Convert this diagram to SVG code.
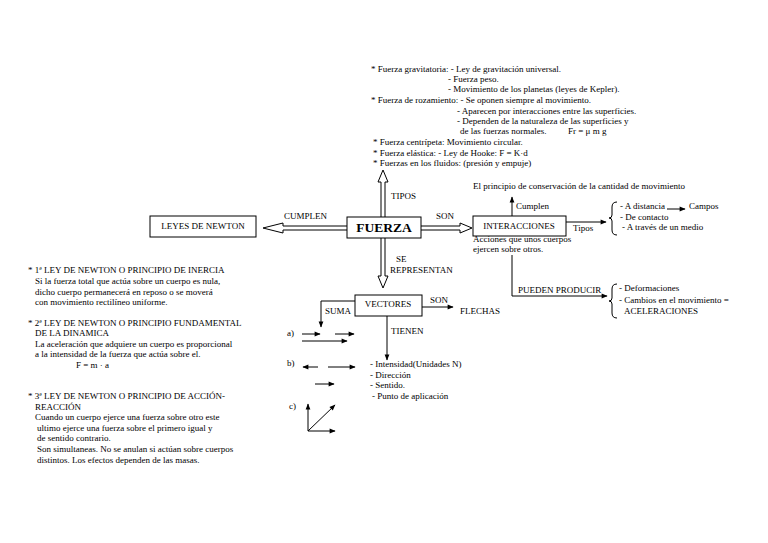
<svg xmlns="http://www.w3.org/2000/svg" width="768" height="543" viewBox="0 0 768 543">
<defs>
<style>
text{font-family:"Liberation Serif","Times New Roman",serif;font-size:9px;fill:#000}
.b{fill:#fff;stroke:#000;stroke-width:1}
.l{fill:none;stroke:#000;stroke-width:1}
.big{font-size:13.5px;font-weight:bold}
</style>
<marker id="ah" viewBox="0 0 10 10" refX="9" refY="5" markerWidth="7" markerHeight="6" orient="auto" markerUnits="userSpaceOnUse">
<path d="M0,1 L10,5 L0,9 Z" fill="#000"/>
</marker>
</defs>
<rect width="768" height="543" fill="#fff"/>

<g id="tipos-list">
<text x="371" y="72">*  Fuerza gravitatoria: - Ley de gravitación universal.</text>
<text x="448" y="82">- Fuerza peso.</text>
<text x="448" y="92">- Movimiento de los planetas (leyes de Kepler).</text>
<text x="371" y="103">*  Fuerza de rozamiento: - Se oponen siempre al movimiento.</text>
<text x="457" y="114">- Aparecen por interacciones entre las superficies.</text>
<text x="457" y="124">- Dependen de la naturaleza de las superficies y</text>
<text x="460" y="134">de las fuerzas normales.</text>
<text x="568" y="134">Fr = μ m g</text>
<text x="373" y="145">*  Fuerza centrípeta: Movimiento circular.</text>
<text x="373" y="156">*  Fuerza elástica: - Ley de Hooke: F = K·d</text>
<text x="373" y="166">*  Fuerzas en los fluidos: (presión y empuje)</text>
</g>

<g id="connectors">
<path class="l" d="M381,217 V182 M385,217 V182 M381,182 H378 L383,170 L388,182 H385"/>
<path class="l" d="M381,238 V276 M385,238 V276 M381,276 H378 L383,288 L388,276 H385"/>
<path class="l" d="M347,226 H283 M347,230 H283 M283,226 V223 L263,228 L283,233 V230"/>
<path class="l" d="M421,226 H460 M421,230 H460 M460,226 V223 L472,228 L460,233 V230"/>
<path class="l" d="M512,216 V197" marker-end="url(#ah)"/>
<path class="l" d="M566,222 H606" marker-end="url(#ah)"/>
<path class="l" d="M667,209 H685" marker-end="url(#ah)"/>
<path class="l" d="M512,255 V296 H607" marker-end="url(#ah)"/>
<path class="l" d="M422,307 H453" marker-end="url(#ah)"/>
<path class="l" d="M355,301 H321 V327" marker-end="url(#ah)"/>
<path class="l" d="M387,315 V360" marker-end="url(#ah)"/>
<path class="l" d="M617,202 Q612,202 612,207 V215 Q612,218 609,218 Q612,218 612,221 V230 Q612,235 617,235"/>
<path class="l" d="M617,284 Q612,284 612,289 V298 Q612,301 609,301 Q612,301 612,304 V313 Q612,318 617,318"/>
</g>

<g id="vector-examples">
<path class="l" d="M302,334 H320" marker-end="url(#ah)"/>
<path class="l" d="M335,334 H354" marker-end="url(#ah)"/>
<path class="l" d="M302,341 H347" marker-end="url(#ah)"/>
<path class="l" d="M318,367 H303" marker-end="url(#ah)"/>
<path class="l" d="M328,367 H355" marker-end="url(#ah)"/>
<path class="l" d="M315,384 H334" marker-end="url(#ah)"/>
<path class="l" d="M308,431 V404" marker-end="url(#ah)"/>
<path class="l" d="M308,431 L335,405" marker-end="url(#ah)"/>
<path class="l" d="M308,431 H335" marker-end="url(#ah)"/>
<text x="287" y="336">a)</text>
<text x="287" y="366">b)</text>
<text x="289" y="409">c)</text>
</g>

<g id="labels">
<text x="391" y="199">TIPOS</text>
<text x="284" y="219">CUMPLEN</text>
<text x="436" y="219">SON</text>
<text x="396" y="262">SE</text>
<text x="390" y="273">REPRESENTAN</text>
<text x="516" y="209">Cumplen</text>
<text x="573" y="231">Tipos</text>
<text x="518" y="293">PUEDEN PRODUCIR</text>
<text x="430" y="303">SON</text>
<text x="460" y="314">FLECHAS</text>
<text x="325" y="314">SUMA</text>
<text x="391" y="334">TIENEN</text>
</g>

<g id="fuerza">
<rect class="b" x="347" y="217" width="74" height="21"/>
<text class="big" x="384" y="232" text-anchor="middle">FUERZA</text>
</g>

<g id="leyes">
<rect class="b" x="150" y="216" width="106" height="21"/>
<text x="203" y="229" text-anchor="middle">LEYES DE NEWTON</text>
</g>

<g id="interacciones">
<rect class="b" x="473" y="216" width="93" height="20"/>
<text x="519" y="229" text-anchor="middle">INTERACCIONES</text>
<text x="473" y="242">Acciones que unos cuerpos</text>
<text x="473" y="252">ejercen sobre otros.</text>
<text x="473" y="189">El principio de conservación de la cantidad de movimiento</text>
</g>

<g id="tipos-interaccion">
<text x="620" y="209">- A distancia</text>
<text x="689" y="209">Campos</text>
<text x="620" y="220">- De contacto</text>
<text x="622" y="230">- A través de un medio</text>
</g>

<g id="efectos">
<text x="619" y="291">- Deformaciones</text>
<text x="619" y="303">- Cambios en el movimiento =</text>
<text x="624" y="314">ACELERACIONES</text>
</g>

<g id="vectores">
<rect class="b" x="355" y="295" width="67" height="21"/>
<text x="388" y="307" text-anchor="middle">VECTORES</text>
</g>

<g id="caracteristicas">
<text x="370" y="367">- Intensidad(Unidades N)</text>
<text x="370" y="378">- Dirección</text>
<text x="370" y="388">- Sentido.</text>
<text x="372" y="399">- Punto de aplicación</text>
</g>

<g id="leyes-texto">
<text x="28" y="273">* 1ª LEY DE NEWTON O PRINCIPIO DE INERCIA</text>
<text x="35" y="284">Si la fuerza total que actúa sobre un cuerpo es nula,</text>
<text x="35" y="295">dicho cuerpo permanecerá en reposo o se moverá</text>
<text x="35" y="305">con movimiento rectilíneo uniforme.</text>
<text x="28" y="326">* 2ª LEY DE NEWTON O PRINCIPIO FUNDAMENTAL</text>
<text x="35" y="336">DE LA DINAMICA</text>
<text x="35" y="347">La aceleración que adquiere un cuerpo es proporcional</text>
<text x="35" y="357">a la intensidad de la fuerza que actúa sobre el.</text>
<text x="76" y="368">F = m · a</text>
<text x="28" y="399">* 3ª LEY DE NEWTON O PRINCIPIO DE ACCIÓN-</text>
<text x="35" y="410">REACCIÓN</text>
<text x="35" y="420">Cuando un cuerpo ejerce una fuerza sobre otro este</text>
<text x="37" y="431">ultimo ejerce una fuerza sobre el primero igual y</text>
<text x="37" y="441">de sentido contrario.</text>
<text x="37" y="452">Son simultaneas. No se anulan si actúan sobre cuerpos</text>
<text x="37" y="463">distintos. Los efectos dependen de las masas.</text>
</g>
</svg>
